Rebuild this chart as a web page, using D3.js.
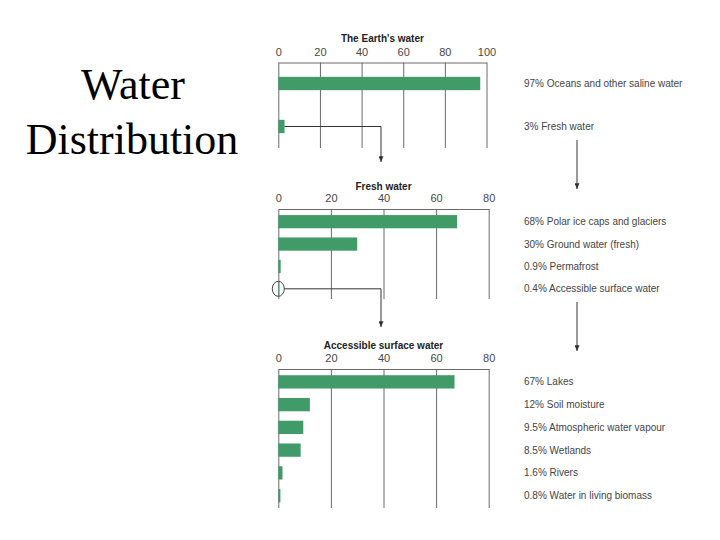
<!DOCTYPE html>
<html>
<head>
<meta charset="utf-8">
<script src="https://cdn.jsdelivr.net/npm/d3@7"></script>
<style>
  body { margin: 0; background: #fff; }
  text { font-family: "Liberation Sans", Arial, sans-serif; }
</style>
</head>
<body>
<div id="chart"></div>
<script>
// data
var earthLabels = ["97% Oceans and other saline water", "3% Fresh water"];
var earthValues = [97, 3];
var earthTicks = [0, 20, 40, 60, 80, 100];

var freshLabels = ["68% Polar ice caps and glaciers", "30% Ground water (fresh)", "0.9% Permafrost", "0.4% Accessible surface water"];
var freshValues = [68, 30, 0.9, 0.4];
var freshTicks = [0, 20, 40, 60, 80];

var surfaceLabels = ["67% Lakes", "12% Soil moisture", "9.5% Atmospheric water vapour", "8.5% Wetlands", "1.6% Rivers", "0.8% Water in living biomass"];
var surfaceValues = [67, 12, 9.5, 8.5, 1.6, 0.8];
var surfaceTicks = [0, 20, 40, 60, 80];

var green = "#419b69";
var gridColor = "#6a6a6a";

var svg = d3.select("#chart").append("svg")
    .attr("width", 720)
    .attr("height", 540);

// all arrows point down, so the head has a fixed orientation
svg.append("defs").append("marker")
    .attr("id", "arrow")
    .attr("viewBox", "0 0 6 7")
    .attr("refX", 3).attr("refY", 7)
    .attr("markerWidth", 5).attr("markerHeight", 6)
    .attr("orient", "0")
    .attr("markerUnits", "userSpaceOnUse")
  .append("path")
    .attr("d", "M0,0 L6,0 L3,7 Z")
    .attr("fill", "#333");

// big title
svg.append("text")
    .attr("x", 133).attr("y", 99)
    .attr("text-anchor", "middle")
    .style("font-family", "'Liberation Serif', 'Times New Roman', serif")
    .style("font-size", "44px")
    .attr("fill", "#000")
    .text("Water");
svg.append("text")
    .attr("x", 132).attr("y", 154)
    .attr("text-anchor", "middle")
    .style("font-family", "'Liberation Serif', 'Times New Roman', serif")
    .style("font-size", "44px")
    .attr("fill", "#000")
    .text("Distribution");

function panel(opts) {
    var x = d3.scaleLinear().domain([0, opts.max]).range([278.3, opts.right]);
    var y = d3.scaleBand()
        .domain(opts.labels)
        .range([opts.top, opts.bottom])
        .paddingInner(opts.pad)
        .paddingOuter(opts.pad / 2);

    var g = svg.append("g");

    g.append("text")
        .attr("x", (x(0) + x(opts.max)) / 2)
        .attr("y", opts.titleY)
        .attr("text-anchor", "middle")
        .style("font-size", "10px")
        .style("font-weight", "bold")
        .style("fill", "#222")
        .text(opts.title);

    var axis = g.append("g")
        .attr("transform", "translate(0," + opts.axisY + ")")
        .attr("color", gridColor)
        .call(d3.axisTop(x)
            .tickValues(opts.ticks)
            .tickSizeInner(-(opts.gridBottom - opts.axisY))
            .tickSizeOuter(0)
            .tickPadding(7));
    axis.selectAll(".tick text")
        .style("fill", "#474747")
        .style("font-size", "11px")
        .style("font-family", "'Liberation Sans', Arial, sans-serif");

    g.selectAll("rect.bar")
        .data(opts.values)
        .enter().append("rect")
        .attr("class", "bar")
        .attr("x", x(0))
        .attr("y", function(d, i) { return y(opts.labels[i]); })
        .attr("width", function(d) { return x(d) - x(0); })
        .attr("height", y.bandwidth())
        .attr("fill", green);

    g.selectAll("text.lab")
        .data(opts.labels)
        .enter().append("text")
        .attr("class", "lab")
        .attr("x", 524)
        .attr("y", function(d) { return y(d) + y.bandwidth() / 2 + 3.5; })
        .style("font-size", "10px")
        .style("fill", "#444")
        .text(function(d) { return d; });

    return {x: x, y: y, g: g};
}

var p1 = panel({
    title: "The Earth's water", labels: earthLabels, values: earthValues, ticks: earthTicks,
    max: 100, right: 486.5, titleY: 42, axisY: 62.5, gridBottom: 148,
    top: 62, bottom: 148, pad: 0.69
});

var p2 = panel({
    title: "Fresh water", labels: freshLabels, values: freshValues, ticks: freshTicks,
    max: 80, right: 488.7, titleY: 189.5, axisY: 209, gridBottom: 299,
    top: 210.5, bottom: 300, pad: 0.41
});

var p3 = panel({
    title: "Accessible surface water", labels: surfaceLabels, values: surfaceValues, ticks: surfaceTicks,
    max: 80, right: 488.7, titleY: 349, axisY: 369, gridBottom: 508,
    top: 370.5, bottom: 507, pad: 0.415
});

// connectors on the left
var c1y = p1.y(earthLabels[1]) + p1.y.bandwidth() / 2;
svg.append("path")
    .attr("d", "M" + p1.x(earthValues[1]) + "," + c1y + " H381 V162")
    .attr("fill", "none").attr("stroke", "#333").attr("stroke-width", 1)
    .attr("marker-end", "url(#arrow)");

var c2y = p2.y(freshLabels[3]) + p2.y.bandwidth() / 2;
svg.append("ellipse")
    .attr("cx", p2.x(0)).attr("cy", c2y)
    .attr("rx", 6).attr("ry", 7.5)
    .attr("fill", "none").attr("stroke", "#444").attr("stroke-width", 1);
svg.append("path")
    .attr("d", "M" + (p2.x(0) + 6) + "," + c2y + " H381 V327")
    .attr("fill", "none").attr("stroke", "#333").attr("stroke-width", 1)
    .attr("marker-end", "url(#arrow)");

// arrows on the right
svg.append("path")
    .attr("d", "M577,140 V189")
    .attr("stroke", "#333").attr("stroke-width", 1)
    .attr("marker-end", "url(#arrow)");
svg.append("path")
    .attr("d", "M577,302 V351")
    .attr("stroke", "#333").attr("stroke-width", 1)
    .attr("marker-end", "url(#arrow)");
</script>
</body>
</html>
